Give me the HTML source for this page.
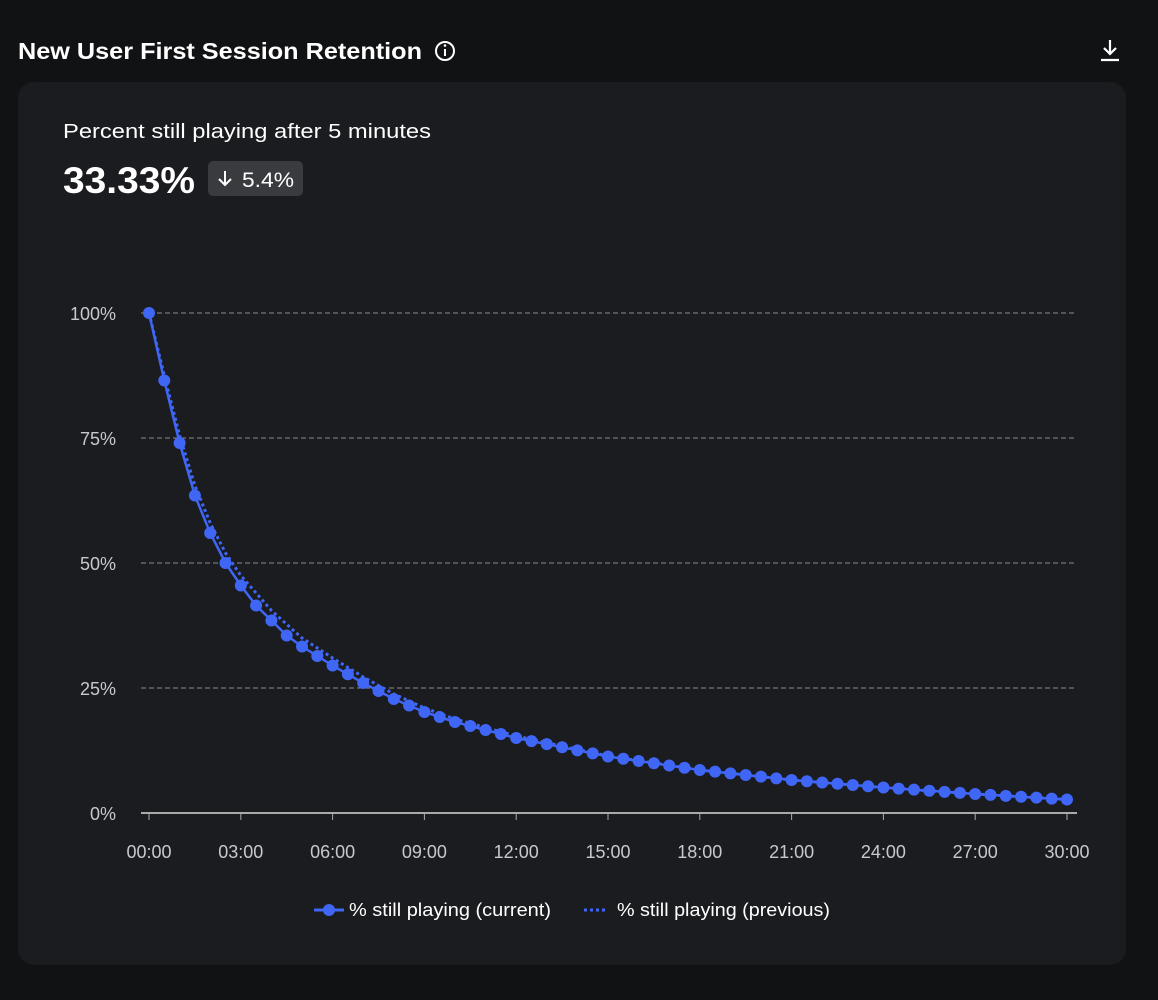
<!DOCTYPE html>
<html><head><meta charset="utf-8"><style>
html,body{margin:0;padding:0;background:#111214;width:1158px;height:1000px;overflow:hidden;font-family:"Liberation Sans",sans-serif;color:#fff}
svg{position:absolute;left:0;top:0}
</style></head><body>
<svg id="s" width="1158" height="1000" xmlns="http://www.w3.org/2000/svg" font-family="Liberation Sans, sans-serif">
<rect x="18" y="82" width="1108" height="883" rx="16" fill="#1b1c1f"/>
<text x="18" y="59" font-size="23" font-weight="bold" fill="#fff" textLength="404" lengthAdjust="spacingAndGlyphs">New User First Session Retention</text>
<circle cx="445" cy="51" r="9" fill="none" stroke="#fff" stroke-width="2"/>
<rect x="444" y="49" width="2" height="7" fill="#fff"/><circle cx="445" cy="45.5" r="1.3" fill="#fff"/>
<g stroke="#fff" stroke-width="2.2" fill="none"><path d="M1110 40v14M1104 48l6 6 6-6M1101 60h18"/></g>
<text x="63" y="138" font-size="20" fill="#fff" textLength="368" lengthAdjust="spacingAndGlyphs">Percent still playing after 5 minutes</text>
<text x="63" y="193" font-size="37" font-weight="bold" fill="#fff" textLength="132" lengthAdjust="spacingAndGlyphs">33.33%</text>
<rect x="208" y="161" width="95" height="35" rx="5" fill="#3a3b3f"/>
<g stroke="#fff" stroke-width="2" fill="none"><path d="M225 171v14M219 179l6 6 6-6"/></g>
<text x="242" y="187" font-size="21" fill="#fff" textLength="52" lengthAdjust="spacingAndGlyphs">5.4%</text>
<g stroke="#8a8b8f" stroke-width="1" stroke-dasharray="5,3">
<line x1="141" y1="313" x2="1077" y2="313"/><line x1="141" y1="438" x2="1077" y2="438"/><line x1="141" y1="563" x2="1077" y2="563"/><line x1="141" y1="688" x2="1077" y2="688"/></g>
<line x1="141" y1="813" x2="1077" y2="813" stroke="#aaa" stroke-width="2"/>
<g font-size="18" fill="#c8c9cc" text-anchor="end">
<text x="116" y="320">100%</text><text x="116" y="445">75%</text><text x="116" y="570">50%</text><text x="116" y="695">25%</text><text x="116" y="820">0%</text></g>
<g id="xt" font-size="18" fill="#c8c9cc" text-anchor="middle"></g>
<g id="plot"></g>
<line x1="314" y1="910" x2="344" y2="910" stroke="#3f66f5" stroke-width="3"/><circle cx="329" cy="910" r="6" fill="#3f66f5"/>
<text x="349" y="916" font-size="18" fill="#fff" textLength="202" lengthAdjust="spacingAndGlyphs">% still playing (current)</text>
<line x1="584" y1="910" x2="606" y2="910" stroke="#3f66f5" stroke-width="3" stroke-dasharray="3,3"/>
<text x="617" y="916" font-size="18" fill="#fff" textLength="213" lengthAdjust="spacingAndGlyphs">% still playing (previous)</text>
</svg>
<script>
var k=[[0,100],[.5,86.5],[1,74],[1.5,63.5],[2,56],[2.5,50],[3,45.5],[3.5,41.5],[4,38.5],[4.5,35.5],[5,33.3],[6,29.5],[7,26],[8,22.8],[9,20.2],[10,18.2],[12,15],[15,11.3],[18,8.6],[21,6.6],[24,5.1],[27,3.8],[30,2.7]];
var p=[[0,100],[.5,87.5],[1,75.5],[1.5,65.5],[2,58],[2.5,52],[3,47.5],[4,40.5],[5,35],[6,31],[7,27.2],[8,23.8],[9,21],[10,18.8],[12,15.4],[15,11.4],[18,8.6],[21,6.6],[24,5.1],[27,3.8],[30,2.7]];
function f(a,t){for(var i=1;i<a.length;i++){if(t<=a[i][0]){var u=(t-a[i-1][0])/(a[i][0]-a[i-1][0]);return a[i-1][1]+u*(a[i][1]-a[i-1][1]);}}return a[a.length-1][1];}
function X(t){return 149+t*30.6}function Y(v){return 813-v*5}
var ns="http://www.w3.org/2000/svg",g=document.getElementById('plot');
var d1="",d2="";for(var i=0;i<=60;i++){var t=i/2;d1+=(i?"L":"M")+X(t).toFixed(1)+" "+Y(f(k,t)).toFixed(1);d2+=(i?"L":"M")+X(t).toFixed(1)+" "+Y(f(p,t)).toFixed(1);}
function el(n,a){var e=document.createElementNS(ns,n);for(var q in a)e.setAttribute(q,a[q]);g.appendChild(e);return e}
el('path',{d:d2,fill:'none',stroke:'#3f66f5','stroke-width':3,'stroke-dasharray':'3,3'});
el('path',{d:d1,fill:'none',stroke:'#3f66f5','stroke-width':2.5});
for(var i=0;i<=60;i++){var t=i/2;el('circle',{cx:X(t),cy:Y(f(k,t)),r:6,fill:'#3f66f5'});}
var xt=document.getElementById('xt');
for(var m=0;m<=30;m+=3){var e=document.createElementNS(ns,'text');e.setAttribute('x',X(m));e.setAttribute('y',858);e.textContent=(m<10?'0':'')+m+':00';xt.appendChild(e);
var l=document.createElementNS(ns,'line');l.setAttribute('x1',X(m));l.setAttribute('x2',X(m));l.setAttribute('y1',813);l.setAttribute('y2',820);l.setAttribute('stroke','#aaa');xt.appendChild(l);}
</script>
</body></html>
